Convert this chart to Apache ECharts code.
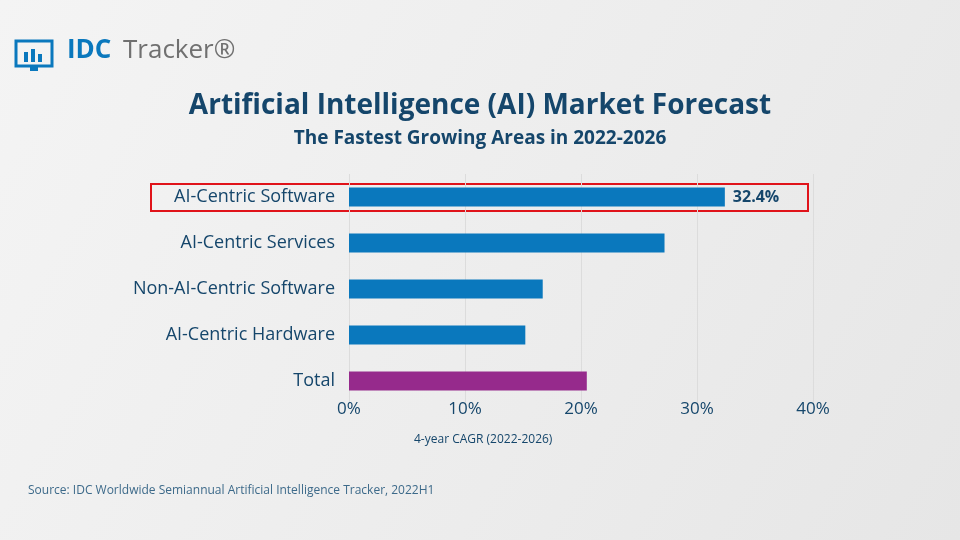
<!DOCTYPE html>
<html><head><meta charset="utf-8">
<script src="https://cdn.jsdelivr.net/npm/echarts@6/dist/echarts.min.js"></script>
<style>html,body{margin:0;padding:0;}#c{width:960px;height:540px;}</style>
</head><body><div id="c"></div>
<script>
const categories = ['AI-Centric Software','AI-Centric Services','Non-AI-Centric Software','AI-Centric Hardware','Total'];
const values = [32.4, 27.2, 16.7, 15.2, 20.5];
const tickLabels = ['0%','10%','20%','30%','40%'];
const F = '"Open Sans", sans-serif';
const chart = echarts.init(document.getElementById('c'));
chart.setOption({
  backgroundColor: {type:'linear',x:0,y:0,x2:1,y2:1,colorStops:[{offset:0,color:'#f4f4f4'},{offset:0.6,color:'#ececec'},{offset:1,color:'#e6e6e6'}]},
  title: [
    {text:'Artificial Intelligence (AI) Market Forecast', left:'center', top:87, textStyle:{fontFamily:F,fontSize:28,fontWeight:'bold',color:'#15466b'}},
    {text:'The Fastest Growing Areas in 2022-2026', left:'center', top:124, textStyle:{fontFamily:F,fontSize:19,fontWeight:'bold',color:'#15466b'}}
  ],
  grid:{left:349,right:147,top:174,bottom:136},
  xAxis:{type:'value',min:0,max:40,interval:10,
    axisLabel:{fontFamily:F,fontSize:17,color:'#15466b',margin:-3,formatter:v=>tickLabels[v/10]},
    axisLine:{show:false},axisTick:{show:false},
    splitLine:{lineStyle:{color:'#dcdcdc'}}},
  yAxis:{type:'category',data:categories,inverse:true,
    axisLabel:{fontFamily:F,fontSize:18,color:'#15466b',margin:14},
    axisLine:{show:false},axisTick:{show:false}},
  series:[{type:'bar',barWidth:19,
    data:values.map((v,i)=>({value:v,itemStyle:{color:i===4?'#962a8c':'#0a78bd'},
      label:{show:i===0,position:'right',formatter:v.toFixed(1)+'%',fontFamily:F,fontSize:16,fontWeight:'bold',color:'#15466b',distance:8}}))}],
  graphic:[
    {type:'rect',shape:{x:151,y:184,width:657,height:27},style:{fill:'none',stroke:'#e0131a',lineWidth:2}},
    {type:'rect',shape:{x:16,y:41,width:36,height:25},style:{fill:'none',stroke:'#0a78bd',lineWidth:3}},
    {type:'rect',shape:{x:24,y:52,width:4,height:10},style:{fill:'#0a78bd'}},
    {type:'rect',shape:{x:31,y:49,width:4,height:13},style:{fill:'#0a78bd'}},
    {type:'rect',shape:{x:38,y:54,width:4,height:8},style:{fill:'#0a78bd'}},
    {type:'rect',shape:{x:30,y:67,width:8,height:4},style:{fill:'#0a78bd'}},
    {type:'text',left:67,top:38,style:{text:'IDC',fontFamily:F,fontSize:26,fontWeight:'bold',fill:'#0a78bd'}},
    {type:'text',left:123,top:38,style:{text:'Tracker®',fontFamily:F,fontSize:26,fill:'#707070'}},
    {type:'text',left:414,top:434,style:{text:'4-year CAGR (2022-2026)',fontFamily:F,fontSize:12,fill:'#15466b'}},
    {type:'text',left:28,top:485,style:{text:'Source: IDC Worldwide Semiannual Artificial Intelligence Tracker, 2022H1',fontFamily:F,fontSize:12,fill:'#3d6a8a'}}
  ]
});
</script></body></html>
